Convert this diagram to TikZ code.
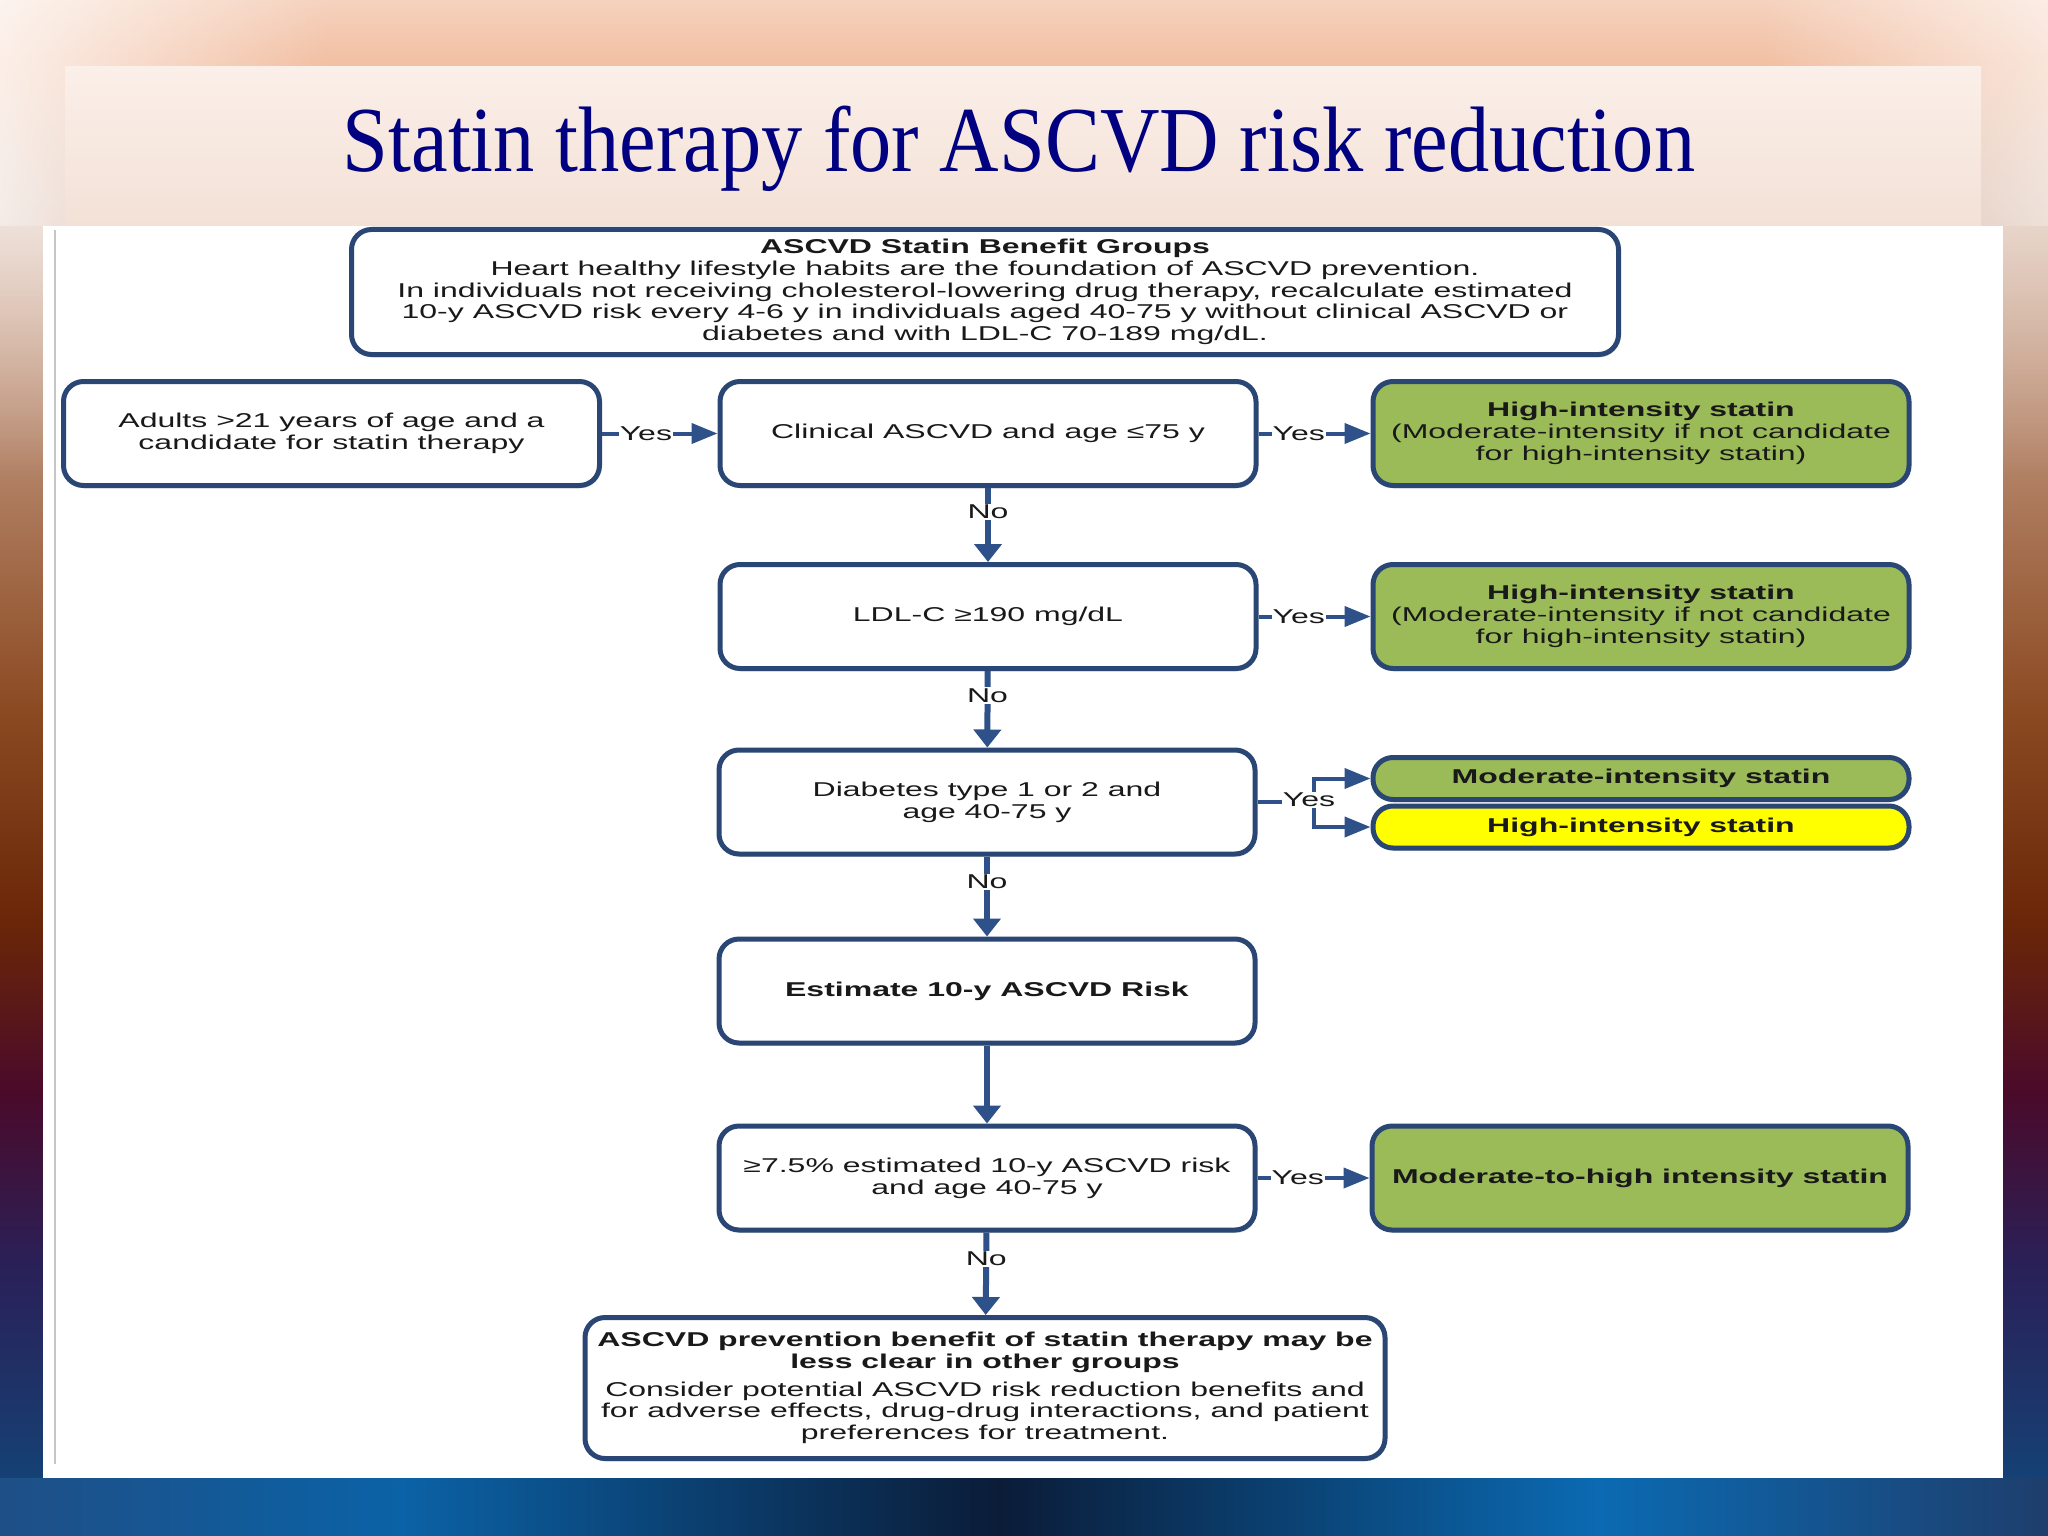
\documentclass[tikz,border=0pt]{standalone}
\usepackage{fontspec}
\usepackage{tikz}
\usetikzlibrary{positioning, arrows.meta, shadows, fadings}
\usepackage{xcolor}

\newfontfamily\chartfont[FakeStretch=1.6]{Liberation Sans}
\newfontfamily\titlefont[FakeStretch=0.886]{Liberation Serif}

\definecolor{boxline}{HTML}{2A4674}
\definecolor{flowblue}{HTML}{2D5188}
\definecolor{statgreen}{HTML}{9BBB59}
\definecolor{statyellow}{HTML}{FFFF00}
\definecolor{titleblue}{HTML}{000080}
\definecolor{bandtop}{HTML}{FBEFE9}
\definecolor{bandbot}{HTML}{F3E1D6}

% slide background colours
\definecolor{bgA}{HTML}{0E4A80}
\definecolor{bgB}{HTML}{1A3A6E}
\definecolor{bgC}{HTML}{2A2058}
\definecolor{bgD}{HTML}{4A0A2A}
\definecolor{bgE}{HTML}{6A2608}
\definecolor{bgF}{HTML}{8B4A22}
\definecolor{bgG}{HTML}{B48468}
\definecolor{bgH}{HTML}{D9B8A5}
\definecolor{bgI}{HTML}{F2C0A4}
\definecolor{bgJ}{HTML}{F6D2BE}
\definecolor{btA}{HTML}{1E4F86}
\definecolor{btB}{HTML}{0B62A6}
\definecolor{btC}{HTML}{0B1C38}
\definecolor{btD}{HTML}{0B6AB2}
\definecolor{btE}{HTML}{1E3E6C}

\pgfdeclareverticalshading{slidebg}{100bp}{color(0bp)=(bgA); color(25bp)=(bgA);
  color(28.3bp)=(bgB); color(33.8bp)=(bgC); color(39.4bp)=(bgD); color(44.9bp)=(bgE);
  color(51.9bp)=(bgF); color(60.2bp)=(bgG); color(68.5bp)=(bgH); color(73bp)=(bgI);
  color(75bp)=(bgJ); color(100bp)=(bgJ)}
\pgfdeclarehorizontalshading{bottombg}{100bp}{color(0bp)=(btA); color(25bp)=(btA);
  color(34.8bp)=(btB); color(49.4bp)=(btC); color(64bp)=(btD); color(75bp)=(btE);
  color(100bp)=(btE)}

\begin{document}
\begin{tikzpicture}[x=0.5pt, y=-0.5pt,
    box/.style={draw=boxline, line width=2.5pt, rounded corners=10pt, fill=white,
        minimum width=268pt, minimum height=52pt, inner sep=2pt, align=center,
        font=\chartfont\fontsize{10}{10.9}\selectfont, text=black!90,
        drop shadow={shadow xshift=0.6pt, shadow yshift=-1.4pt, opacity=0.25}},
    greenbox/.style={box, fill=statgreen},
    hflow/.style={draw=flowblue, line width=2pt, -{Triangle[length=13pt, width=10pt]}},
    vflow/.style={draw=flowblue, line width=3pt, -{Triangle[length=9pt, width=13.5pt]}},
    answer/.style={fill=white, inner sep=0.6pt, text=black!90,
        font=\chartfont\fontsize{10}{11}\selectfont}]

    \useasboundingbox (0,0) rectangle (2048,1535);

    % Slide background
    \shade[shading=slidebg] (0,0) rectangle (2048,1535);
    \fill[white, opacity=0.75, path fading=east] (0,0) rectangle (330,226);
    \fill[white, opacity=0.6, path fading=south] (0,226) rectangle (43,480);
    \fill[white, opacity=0.6, path fading=west] (1760,0) rectangle (2048,226);
    \fill[white, opacity=0.45, path fading=south] (2003,226) rectangle (2048,480);
    \shade[shading=bottombg] (0,1478) rectangle (2048,1535);

    % Title band
    \shade[top color=bandtop, bottom color=bandbot] (65,67) rectangle (1981,226);
    \node[anchor=base, text=titleblue, font=\titlefont\fontsize{46.5}{50}\selectfont]
        (title) at (1019,172) {Statin therapy for ASCVD risk reduction};

    % White panel
    \fill[white] (43,226) rectangle (2003,1478);
    \draw[gray!45, line width=1pt] (55,230) -- (55,1464);

    % Boxes
    \node[box, minimum width=633.5pt, minimum height=62.5pt] (groups) at (985,292)
        {\textbf{ASCVD Statin Benefit Groups}\\
         Heart healthy lifestyle habits are the foundation of ASCVD prevention.\\
         In individuals not receiving cholesterol-lowering drug therapy, recalculate estimated\\
         10-y ASCVD risk every 4-6 y in individuals aged 40-75 y without clinical ASCVD or\\
         diabetes and with LDL-C 70-189 mg/dL.};

    \node[box] (adults) at (331.5,433.5) {Adults >21 years of age and a\\candidate for statin therapy};
    \node[box] (clinical) at (988,433.5) {Clinical ASCVD and age ≤75 y};
    \node[greenbox] (highA) at (1641,433.5)
        {\textbf{High-intensity statin}\\(Moderate-intensity if not candidate\\for high-intensity statin)};

    \node[box] (ldl) at (988,616.5) {LDL-C ≥190 mg/dL};
    \node[greenbox] (highB) at (1641,616.5)
        {\textbf{High-intensity statin}\\(Moderate-intensity if not candidate\\for high-intensity statin)};

    \node[box] (diabetes) at (987,802) {Diabetes type 1 or 2 and\\age 40-75 y};
    \node[greenbox, minimum height=21pt] (moderate) at (1641,778.5) {\textbf{Moderate-intensity statin}};
    \node[box, fill=statyellow, minimum height=21pt] (highC) at (1641,827) {\textbf{High-intensity statin}};

    \node[box] (estimate) at (987,991) {\textbf{Estimate 10-y ASCVD Risk}};

    \node[box] (risk) at (987,1178) {≥7.5\% estimated 10-y ASCVD risk\\and age 40-75 y};
    \node[greenbox] (modhigh) at (1640,1178) {\textbf{Moderate-to-high intensity statin}};

    \node[box, minimum width=400pt, minimum height=70.5pt] (other) at (985,1388)
        {\textbf{ASCVD prevention benefit of statin therapy may be}\\
         \textbf{less clear in other groups}\\[3pt]
         Consider potential ASCVD risk reduction benefits and\\
         for adverse effects, drug-drug interactions, and patient\\
         preferences for treatment.};

    % Yes arrows
    \draw[hflow] (adults) -- node[answer, pos=0.38] (yesA) {Yes} (clinical);
    \draw[hflow] (clinical) -- node[answer, pos=0.36] (yesB) {Yes} (highA);
    \draw[hflow] (ldl) -- node[answer, pos=0.36] (yesC) {Yes} (highB);
    \draw[hflow] (risk) -- node[answer, pos=0.36] (yesE) {Yes} (modhigh);

    % Fork to the two diabetes options
    \coordinate (fork) at (1314,802);
    \draw[draw=flowblue, line width=2pt] (diabetes.east) -- (fork);
    \draw[hflow] (fork) |- (moderate.west);
    \draw[hflow] (fork) |- (highC.west);
    \node[answer] (yesD) at (1309,800) {Yes};

    % No arrows
    \draw[vflow] (clinical) -- node[answer, pos=0.32] (noA) {No} (ldl);
    \draw[vflow] (ldl) -- node[answer, pos=0.32] (noB) {No} (diabetes);
    \draw[vflow] (diabetes) -- node[answer, pos=0.32] (noC) {No} (estimate);
    \draw[vflow] (estimate) -- (risk);
    \draw[vflow] (risk) -- node[answer, pos=0.32] (noD) {No} (other);

\end{tikzpicture}
\end{document}
